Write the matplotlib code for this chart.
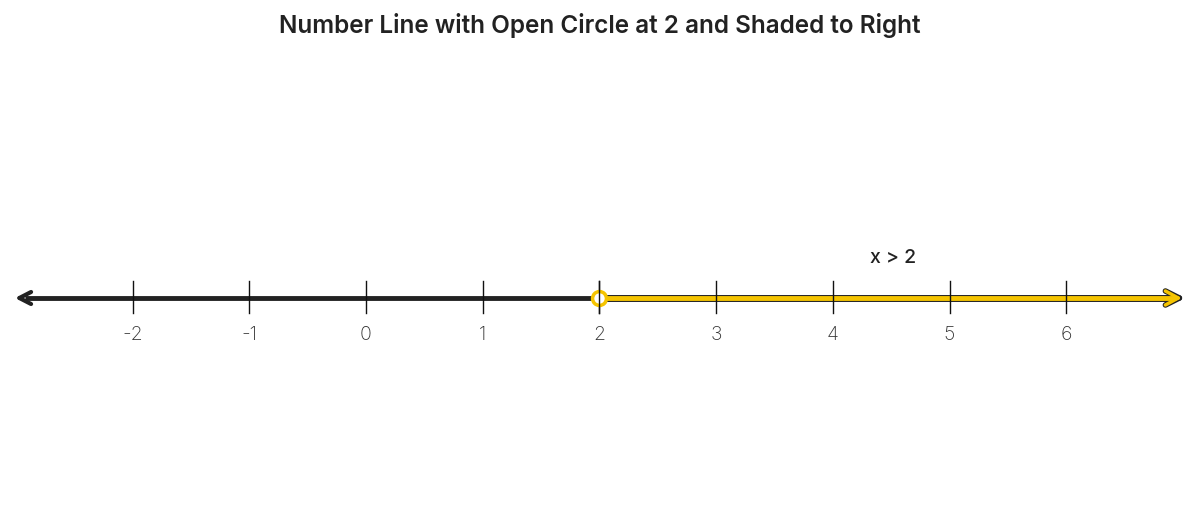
import matplotlib
matplotlib.use("Agg")
import matplotlib.pyplot as plt

ticks = [-2, -1, 0, 1, 2, 3, 4, 5, 6]
tick_labels = ["-2", "-1", "0", "1", "2", "3", "4", "5", "6"]
boundary = 2
line_min, line_max = -2.97, 6.97
title = "Number Line with Open Circle at 2 and Shaded to Right"
label = "x > 2"

plt.rcParams['font.family'] = ['Inter', 'DejaVu Sans']
fig = plt.figure(figsize=(12, 5.3), dpi=100)
ax = fig.add_axes([0, 0, 1, 1])
ax.set_xlim(-366/116.7, (1200-366)/116.7)
ax.set_ylim(530, 0)
ax.axis('off')
Y = 298
dark = '#222222'
yel = '#f5c400'

ax.plot([line_min + 0.05, boundary], [Y, Y], color=dark, lw=3.5, solid_capstyle='butt', zorder=2)
ax.plot([line_min, line_min + 0.1], [Y, Y - 6], color=dark, lw=3, solid_capstyle='round')
ax.plot([line_min, line_min + 0.1], [Y, Y + 6], color=dark, lw=3, solid_capstyle='round')
ax.plot([boundary, line_max - 0.03], [Y, Y], color=dark, lw=5, solid_capstyle='butt', zorder=2)
ax.plot([boundary, line_max - 0.03], [Y, Y], color=yel, lw=3.5, solid_capstyle='butt', zorder=3)
for s in (-1, 1):
    ax.plot([line_max - 0.12, line_max], [Y + s*7, Y], color=dark, lw=4, solid_capstyle='round', zorder=2)
    ax.plot([line_max - 0.12, line_max - 0.01], [Y + s*7, Y], color=yel, lw=2.5, solid_capstyle='round', zorder=3)

for t, tl in zip(ticks, tick_labels):
    ax.plot([t, t], [281, 313], color='#111111', lw=1.0, zorder=4)
    ax.text(t, 335, tl, ha='center', va='center', fontsize=14, color='#333333', fontweight='light')

ax.plot([boundary], [Y], marker='o', ms=10, mfc='white', mec=yel, mew=2.5, zorder=5)
ax.plot([boundary, boundary], [281, 313], color='#111111', lw=1.0, zorder=6)

ax.text(4.52, 258, label, ha='center', va='center', fontsize=14, fontweight='medium', color='#222222')
ax.text(600/1200*10.284 - 366/116.7, 25, title, ha='center', va='center', fontsize=17.5, fontweight='semibold', color='#222222')

fig.savefig("out.png", dpi=100)
